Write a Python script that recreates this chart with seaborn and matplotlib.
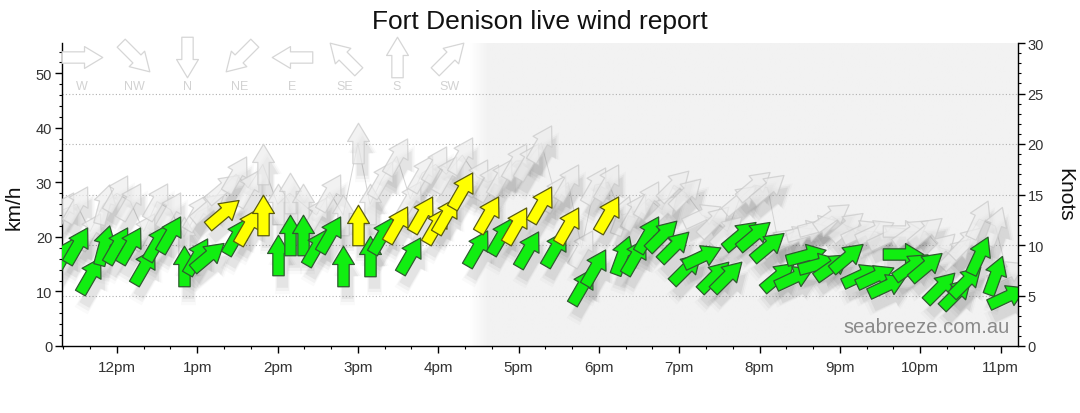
import numpy as np
import pandas as pd
import matplotlib
matplotlib.use("Agg")
import matplotlib.pyplot as plt
import matplotlib.dates as mdates
from matplotlib.path import Path
from matplotlib.markers import MarkerStyle
from matplotlib.transforms import Affine2D, offset_copy
from matplotlib.ticker import MultipleLocator, FuncFormatter
from matplotlib.colors import LinearSegmentedColormap
import seaborn as sns

times = ["11:20", "11:30", "11:40", "11:50", "12:00", "12:10", "12:20", "12:30", "12:40", "12:50",
         "13:00", "13:08", "13:19", "13:29", "13:38", "13:49", "14:00", "14:09", "14:19", "14:29",
         "14:39", "14:49", "15:00", "15:09", "15:18", "15:29", "15:39", "15:48", "15:58", "16:06",
         "16:18", "16:29", "16:37", "16:47", "16:58", "17:07", "17:17", "17:27", "17:37", "17:47",
         "17:57", "18:07", "18:17", "18:27", "18:37", "18:47", "18:56", "19:05", "19:17", "19:26",
         "19:36", "19:45", "19:56", "20:06", "20:14", "20:26", "20:35", "20:44", "20:54", "21:05",
         "21:16", "21:26", "21:35", "21:47", "21:53", "22:04", "22:15", "22:27", "22:34", "22:44",
         "22:56", "23:05"]
speed_kmh = [16.5, 18.5, 13.0, 18.5, 18.5, 18.5, 14.7, 19.0, 20.5, 14.7,
             16.5, 16.5, 24.4, 20.1, 22.0, 24.0, 16.7, 20.3, 20.3, 18.1,
             20.5, 14.7, 22.2, 16.5, 20.3, 22.3, 16.7, 24.2, 22.2, 24.0,
             28.6, 18.0, 24.2, 20.1, 22.2, 17.8, 26.0, 18.0, 22.2, 11.0,
             14.5, 24.2, 16.7, 16.5, 20.6, 20.3, 18.3, 14.3, 16.5, 12.8,
             12.8, 20.3, 20.3, 18.3, 12.8, 12.6, 16.7, 15.0, 14.7, 16.3,
             13.0, 12.8, 11.2, 16.8, 14.7, 14.7, 10.8, 9.7, 11.9, 16.7,
             13.0, 9.2]
gust_kmh = [25.0, 26.0, 21.0, 26.0, 28.0, 26.5, 21.0, 26.5, 25.0, 20.0,
            24.5, 25.5, 29.0, 31.5, 29.0, 33.3, 26.0, 28.0, 26.0, 24.0,
            28.2, 24.0, 37.2, 26.0, 30.6, 34.8, 27.0, 31.7, 33.3, 31.5,
            35.0, 31.0, 30.0, 31.0, 33.9, 34.0, 37.2, 28.0, 30.0, 18.0,
            29.5, 30.0, 24.0, 24.7, 27.0, 25.0, 29.5, 28.0, 24.0, 22.9,
            21.0, 27.0, 29.5, 29.0, 19.0, 20.0, 21.0, 22.0, 23.8, 22.0,
            21.0, 21.0, 20.0, 21.0, 20.9, 21.0, 18.0, 17.0, 19.0, 23.3,
            22.0, 13.5]
direction_deg = [210, 210, 210, 195, 210, 210, 210, 210, 210, 180,
                 210, 230, 230, 210, 210, 180, 180, 180, 180, 210,
                 210, 180, 180, 180, 210, 210, 210, 210, 210, 210,
                 210, 210, 210, 210, 210, 210, 210, 210, 210, 210,
                 210, 210, 200, 210, 210, 225, 225, 225, 245, 225,
                 225, 230, 230, 230, 230, 245, 255, 255, 235, 230,
                 245, 245, 245, 270, 235, 230, 225, 225, 225, 205,
                 200, 245]

compass_labels = ["W", "NW", "N", "NE", "E", "SE", "S", "SW"]
compass_deg = [270, 315, 0, 45, 90, 135, 180, 225]

sunset = "16:28"
day = "2024-01-01 "
KMH_PER_KNOT = 1.852
yellow_from_knots = 11.5

sns.set_style("ticks")
plt.rcParams["font.family"] = ["Liberation Sans", "DejaVu Sans"]

df = pd.DataFrame({"time": pd.to_datetime([day + t for t in times]),
                   "speed": speed_kmh, "gust": gust_kmh, "dir": direction_deg})
df["t"] = mdates.date2num(df["time"])

# fat arrow pointing north, centred on the origin
ARROW = Path([(0, 1), (0.54, 0.1), (0.28, 0.1), (0.28, -1), (-0.28, -1),
              (-0.28, 0.1), (-0.54, 0.1), (0, 1)],
             [Path.MOVETO] + [Path.LINETO] * 6 + [Path.CLOSEPOLY])


def arrow(from_deg):
    # arrows point where the wind goes to
    return MarkerStyle(ARROW, transform=Affine2D().rotate_deg(-(from_deg + 180)))


ARROW_S = 850

fig = plt.figure(figsize=(10.8, 4.14), dpi=100)
ax = fig.add_axes([62 / 1080, 67 / 414, 956 / 1080, 303 / 414])
ax2 = ax.twinx()

x0 = mdates.date2num(pd.Timestamp(day + "11:19"))
x1 = mdates.date2num(pd.Timestamp(day + "23:13"))
ymax = 30 * KMH_PER_KNOT

# night shading with a soft edge
xs = mdates.date2num(pd.Timestamp(day + sunset))
ramp = np.clip(np.linspace(-0.3, 30, 400), 0, 1)[None, :]
shade = LinearSegmentedColormap.from_list("shade", ["#ffffff", "#f2f2f2"])
ax.imshow(ramp, cmap=shade, extent=[xs - 0.006, x1, 0, ymax], aspect="auto",
          zorder=0, interpolation="bilinear")
ax.set_xlim(x0, x1)
ax.set_ylim(0, ymax)
ax2.set_ylim(0, 30)

# dotted knot grid
for k in [5, 10, 15, 20, 25]:
    ax.axhline(k * KMH_PER_KNOT, color="#b0b0b0", lw=0.8, ls=(0, (1, 2)), zorder=1)

# thin gust trace
sns.lineplot(x=df["t"], y=df["gust"], ax=ax, color="#d4d4d4", lw=0.7, zorder=2)

shadow_tr = offset_copy(ax.transData, fig=fig, x=4, y=-12, units="dots")


def draw_arrows(col, face, edge, alpha, z):
    for _, r in df.iterrows():
        m = arrow(r["dir"])
        for sc, a in [(1.0, 0.05), (1.35, 0.035), (1.75, 0.02)]:
            ax.scatter(r["t"], r[col], s=ARROW_S * sc, marker=m, color="#000000",
                       alpha=a, linewidths=0, transform=shadow_tr, zorder=z)
        fc = face(r) if callable(face) else face
        ec = edge(r) if callable(edge) else edge
        ax.scatter(r["t"], r[col], s=ARROW_S, marker=m, facecolor=fc, edgecolor=ec,
                   linewidths=0.9, alpha=alpha, zorder=z + 1)


def speed_face(r):
    return "#ffff00" if r["speed"] / KMH_PER_KNOT >= yellow_from_knots else "#11ee11"


def speed_edge(r):
    return "#5a5a10" if r["speed"] / KMH_PER_KNOT >= yellow_from_knots else "#2f5a2f"


draw_arrows("gust", "#ededed", "#c8c8c8", 0.7, 3)
draw_arrows("speed", speed_face, speed_edge, 1.0, 5)

# compass key
for i, (lab, d) in enumerate(zip(compass_labels, compass_deg)):
    cx = 0.021 + i * 0.0549
    ax.scatter(cx, 0.954, s=ARROW_S, marker=arrow(d), facecolor="white",
               edgecolor="#d6d6d6", linewidths=0.9, transform=ax.transAxes, zorder=7,
               clip_on=False)
    ax.text(cx, 0.858, lab, transform=ax.transAxes, ha="center", va="center",
            fontsize=9, color="#d2d2d2", zorder=7)

ax.text(0.9916, 0.033, "seabreeze.com.au", transform=ax.transAxes, ha="right",
        va="bottom", fontsize=14.5, color="#8a8a8a", zorder=8)

# axes cosmetics
for a in (ax, ax2):
    a.spines["top"].set_visible(False)
    for s in ["left", "right", "bottom"]:
        a.spines[s].set_color("#000000")
        a.spines[s].set_linewidth(1.0)
ax.spines["right"].set_visible(False)
ax2.spines["left"].set_visible(False)
ax2.spines["bottom"].set_visible(False)

ax.yaxis.set_major_locator(MultipleLocator(10))
ax.yaxis.set_minor_locator(MultipleLocator(2))
ax2.yaxis.set_major_locator(MultipleLocator(5))
ax2.yaxis.set_minor_locator(MultipleLocator(1))
ax.xaxis.set_major_locator(mdates.HourLocator())
ax.xaxis.set_minor_locator(mdates.MinuteLocator(byminute=[20, 40]))
ax.xaxis.set_major_formatter(FuncFormatter(
    lambda v, pos: mdates.num2date(v).strftime("%I%p").lstrip("0").lower()))

for a in (ax, ax2):
    a.tick_params(which="major", length=5, width=1, color="#000000",
                  labelsize=10.5, labelcolor="#333333", direction="out", pad=2)
    a.tick_params(which="minor", length=2.5, width=0.8, color="#000000", direction="out")
ax.tick_params(axis="x", which="major", labelsize=11, pad=5)
ax.set_xlabel("")
ax.set_ylabel("")

fig.text(0.5, 1 - 22 / 414, "Fort Denison live wind report", ha="center", va="center",
         fontsize=19, color="#111111")
fig.text(14 / 1080, 1 - 207 / 414, "km/h", rotation=90, ha="center", va="center",
         fontsize=15, color="#111111")
fig.text(1065 / 1080, 1 - 195 / 414, "Knots", rotation=270, ha="center", va="center",
         fontsize=15, color="#111111")

fig.savefig("out.png", dpi=100)
